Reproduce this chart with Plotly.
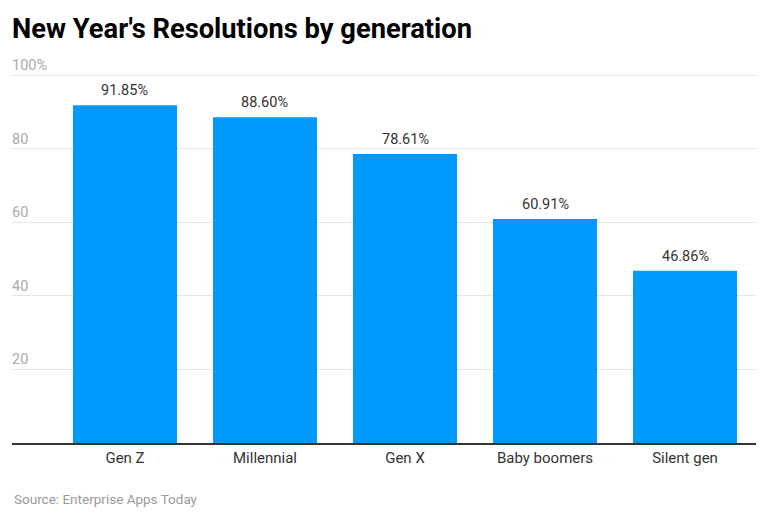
import plotly.graph_objects as go

categories = ["Gen Z", "Millennial", "Gen X", "Baby boomers", "Silent gen"]
values = [91.85, 88.60, 78.61, 60.91, 46.86]
value_labels = ["91.85%", "88.60%", "78.61%", "60.91%", "46.86%"]
y_tickvals = [20, 40, 60, 80, 100]
y_ticktext = ["20", "40", "60", "80", "100%"]

fig = go.Figure()
fig.add_trace(go.Bar(
    x=categories, y=values,
    marker=dict(color="#0099FF", line=dict(width=0)),
    cliponaxis=False, hoverinfo="skip",
))

annotations = [dict(x=c, y=v, text=t, xref="x", yref="y", xanchor="center",
                    yanchor="bottom", yshift=4, showarrow=False,
                    font=dict(family="Roboto", size=14.5, color="#333333"))
               for c, v, t in zip(categories, values, value_labels)]
annotations.append(dict(text="Source: Enterprise Apps Today", x=0, xref="paper",
                        xanchor="left", y=(443 - 499) / 386, yref="paper",
                        yanchor="middle", showarrow=False,
                        font=dict(family="Roboto", size=13.5, color="#999999")))

fig.update_layout(
    width=768, height=520,
    margin=dict(l=12, r=12, t=57, b=77),
    paper_bgcolor="white", plot_bgcolor="white",
    bargap=0.257,
    showlegend=False,
    font=dict(family="Roboto", color="#333333"),
    title=dict(text="<b>New Year's Resolutions by generation</b>",
               x=12/768, xref="container", xanchor="left", y=1 - 28/520, yanchor="middle",
               yref="container",
               font=dict(family="Roboto", size=27.3, color="#000000")),
    xaxis=dict(range=[-0.807, 4.507], showgrid=False, showline=True,
               linecolor="#333333", linewidth=1.5, ticks="", ticklen=0,
               tickfont=dict(family="Roboto", size=15, color="#333333")),
    yaxis=dict(range=[0, 105], tickvals=y_tickvals, ticktext=y_ticktext,
               ticklabelposition="inside top", ticklabelstandoff=-3,
               showgrid=True, gridcolor="#e5e5e5",
               gridwidth=1, zeroline=False, showline=False,
               tickfont=dict(family="Roboto", size=14.5, color="#aaaaaa")),
    annotations=annotations,
)

fig.write_html("out.html")
